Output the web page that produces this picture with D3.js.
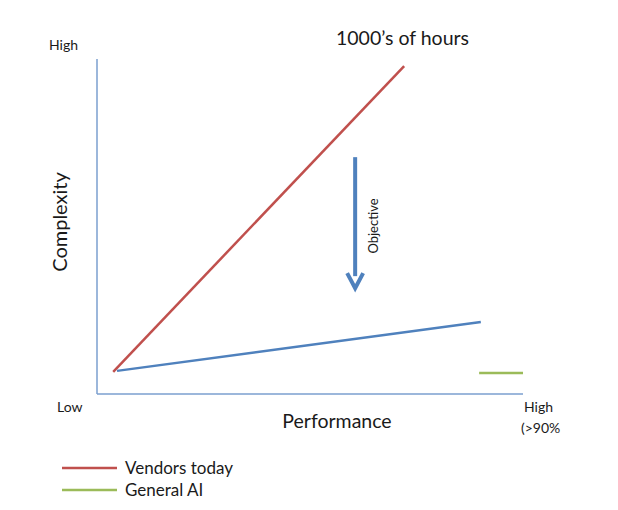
<!DOCTYPE html>
<html><head><meta charset="utf-8">
<script src="https://cdn.jsdelivr.net/npm/d3@7"></script>
<style>body{margin:0;background:#fff}text{font-family:Lato,"Open Sans",sans-serif;fill:#1a1a1a}</style>
</head><body>
<svg id="c" width="618" height="510"></svg>
<script>
// Data (performance %, complexity %)
const vendorsToday = [[3.8, 6.6], [72.1, 97.9]];
const ourApproach = [[4.7, 6.9], [90.1, 21.5]];
const generalAI = [[89.7, 6.3], [100, 6.3]];
const objectiveArrow = [[60.6, 70.7], [60.6, 31.6]];
const legendItems = ["Vendors today", "General AI"];
const legendColors = ["#C0504D", "#9BBB59"];

const svg = d3.select("#c");
const x = d3.scaleLinear().domain([0, 100]).range([97, 523]);
const y = d3.scaleLinear().domain([0, 100]).range([394, 59]);
const line = d3.line().x(d => x(d[0])).y(d => y(d[1]));

// axes
svg.append("line").attr("x1", x(0)).attr("x2", x(0)).attr("y1", y(0)).attr("y2", y(100))
  .attr("stroke", "#7B9FCF").attr("stroke-width", 1.5);
svg.append("line").attr("x1", x(0)).attr("x2", x(100)).attr("y1", y(0)).attr("y2", y(0))
  .attr("stroke", "#7B9FCF").attr("stroke-width", 1.5);

svg.append("path").attr("d", line(vendorsToday)).attr("stroke", "#C0504D").attr("stroke-width", 2.5).attr("fill", "none");
svg.append("path").attr("d", line(ourApproach)).attr("stroke", "#4F81BD").attr("stroke-width", 2.5).attr("fill", "none");
svg.append("path").attr("d", line(generalAI)).attr("stroke", "#9BBB59").attr("stroke-width", 2.5).attr("fill", "none");

// arrow
const ax = x(objectiveArrow[0][0]), ay1 = y(objectiveArrow[0][1]), ay2 = y(objectiveArrow[1][1]);
svg.append("line").attr("x1", ax).attr("x2", ax).attr("y1", ay1).attr("y2", ay2 - 12)
  .attr("stroke", "#4F81BD").attr("stroke-width", 4);
svg.append("path").attr("d", `M${ax - 8},${ay2 - 15} L${ax},${ay2} L${ax + 8},${ay2 - 15}`)
  .attr("stroke", "#4F81BD").attr("stroke-width", 4).attr("fill", "none").attr("stroke-linejoin", "miter");
svg.append("text").attr("transform", `translate(${ax + 23},226) rotate(-90)`)
  .attr("text-anchor", "middle").attr("font-size", 13).text("Objective");

// labels
svg.append("text").attr("x", 49).attr("y", 50).attr("font-size", 14).text("High");
svg.append("text").attr("x", 57).attr("y", 412).attr("font-size", 14).text("Low");
svg.append("text").attr("x", 524).attr("y", 412).attr("font-size", 14).text("High");
svg.append("text").attr("x", 521).attr("y", 433).attr("font-size", 14).text("(>90%");
svg.append("text").attr("x", 337).attr("y", 428).attr("text-anchor", "middle").attr("font-size", 19.5).text("Performance");
svg.append("text").attr("transform", "translate(67,222) rotate(-90)").attr("text-anchor", "middle").attr("font-size", 20).text("Complexity");
svg.append("text").attr("x", 336).attr("y", 45).attr("font-size", 19.5).text("1000’s of hours");

// legend
const lg = svg.append("g");
legendItems.forEach((t, i) => {
  const yy = 468 + i * 22;
  lg.append("line").attr("x1", 62).attr("x2", 117).attr("y1", yy).attr("y2", yy)
    .attr("stroke", legendColors[i]).attr("stroke-width", 2.5);
  lg.append("text").attr("x", 125).attr("y", yy + 6).attr("font-size", 17).text(t);
});
</script>
</body></html>
